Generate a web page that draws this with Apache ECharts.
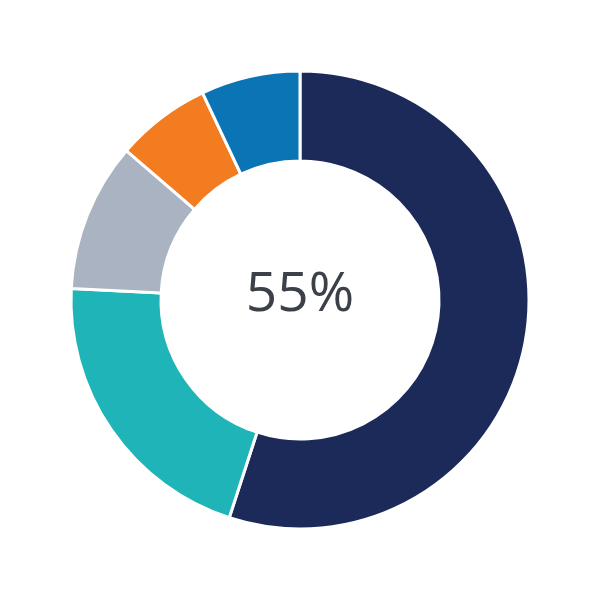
<!DOCTYPE html>
<html><head><meta charset="utf-8">
<script src="https://cdn.jsdelivr.net/npm/echarts@6/dist/echarts.min.js"></script>
<style>html,body{margin:0;padding:0;background:#fff}#c{width:600px;height:600px}</style>
</head><body><div id="c"></div>
<script>
const categories = ['A', 'B', 'C', 'D', 'E'];
const values = [55, 20.8, 10.5, 6.7, 7.0];
const colors = ['#1c2a59', '#1fb5b8', '#a9b3c1', '#f37b20', '#0b74b5'];
const centerLabel = '55%';

const chart = echarts.init(document.getElementById('c'), null, {renderer: 'canvas'});
chart.setOption({
  animation: false,
  graphic: [{
    type: 'text', left: 'center', top: 268,
    style: {text: centerLabel, font: "normal 55px 'Open Sans'", fill: '#3b4049'}
  }],
  series: [{
    type: 'pie',
    center: [300, 300],
    radius: [139, 229],
    startAngle: 90,
    clockwise: true,
    label: {show: false},
    labelLine: {show: false},
    itemStyle: {borderColor: '#fff', borderWidth: 3},
    data: categories.map((c, i) => ({name: c, value: values[i], itemStyle: {color: colors[i]}}))
  }]
});
</script></body></html>
